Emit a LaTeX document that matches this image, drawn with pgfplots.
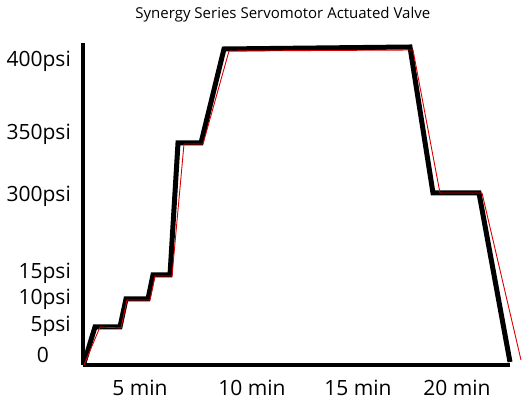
\documentclass[border=0pt]{standalone}
\usepackage{pgfplots}
\pgfplotsset{compat=1.18}
\usepackage{fontspec}
\setmainfont{Open Sans}
\begin{document}
\begin{tikzpicture}
\begin{axis}[
  at={(83pt,39pt)}, anchor=south west,
  width=427pt, height=322pt, scale only axis,
  xmin=83, xmax=510, ymin=39, ymax=361,
  clip=false,
  axis lines=left,
  axis line style={-, line width=4pt},
  major tick length=0pt,
  /pgf/number format/assume math mode=true,
  xtick={140,252,358,457},
  xticklabels={5 min, 10 min, 15 min, 20 min},
  xticklabel style={font=\fontsize{21}{24}\selectfont, anchor=base, inner sep=0pt, yshift=-31pt},
  ytick={41,72,99,125,202,264,337},
  yticklabels={0\hspace*{22pt}, 5psi, 10psi, 15psi, 300psi, 350psi, 400psi},
  yticklabel style={font=\fontsize{21}{24}\selectfont, anchor=base east, inner sep=0pt, xshift=-12pt},
  title={Synergy Series Servomotor Actuated Valve},
  title style={font=\fontsize{15}{18}\selectfont, at={(0.468,1.056)}, anchor=base, inner sep=0pt},
]
% thick black trace
\addplot[black, line width=5pt] coordinates {
  (84,41) (95,77) (120,77) (126,105) (148,105) (153,129) (170,129)
  (178,261) (201,261) (224,355) (410,357) (433,211) (479,211) (510,42)
};
% thin red trace
\addplot[red!85!black, line width=0.9pt] coordinates {
  (84,39) (100,77) (121,76) (127,104) (150,104) (155,128) (172,128)
  (184,260) (203,260) (229,353) (413,354) (440,211) (482,211) (521,44)
};
\end{axis}
\pgfresetboundingbox
\path (0,0) rectangle (522pt,404pt);
\end{tikzpicture}
\end{document}
